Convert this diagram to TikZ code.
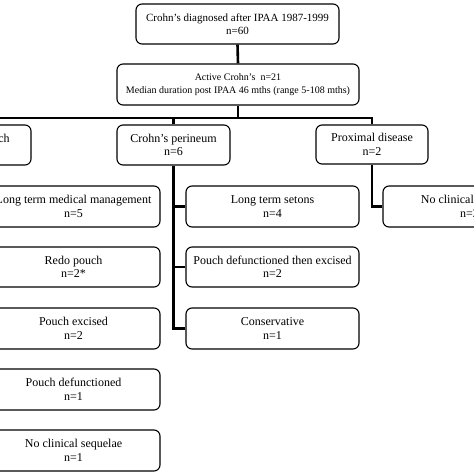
\documentclass[tikz,border=0pt]{standalone}
\usepackage{fontspec}
\setmainfont{Liberation Serif}
\begin{document}
\begin{tikzpicture}[x=1pt,y=-1pt,
  box/.style={draw, line width=1.1pt, rounded corners=6pt, align=center, inner sep=0pt, fill=white},
  lvl/.style={box, font=\fontsize{12}{13.5}\selectfont},
  conn/.style={line width=2.6pt}]
\useasboundingbox (0,0) rectangle (474,474);
\clip (0,0) rectangle (474,474);
\fill[white] (0,0) rectangle (474,474);
% nodes
\node[box, minimum width=203pt, minimum height=40pt, font=\fontsize{11}{13}\selectfont] (top) at (237.5,24) {Crohn’s diagnosed after IPAA 1987-1999\\n=60};
\node[box, minimum width=242pt, minimum height=41pt, font=\fontsize{10}{12.5}\selectfont] (active) at (238,84.5) {Active Crohn’s\ \ n=21\\Median duration post IPAA 46 mths (range 5-108 mths)};
\node[lvl, minimum width=113pt, minimum height=40pt] (pouch) at (-25.5,145) {Crohn’s pouch\\n=13};
\node[lvl, minimum width=113pt, minimum height=40pt] (perineum) at (173.5,145) {Crohn’s perineum\\n=6};
\node[lvl, minimum width=112pt, minimum height=39pt] (proximal) at (372,144.5) {Proximal disease\\n=2};
% left column
\node[lvl, minimum width=173pt, minimum height=41pt] (ltmm) at (73.5,206.5) {Long term medical management\\n=5};
\node[lvl, minimum width=173pt, minimum height=40pt] (redo) at (73.5,267) {Redo pouch\\n=2*};
\node[lvl, minimum width=173pt, minimum height=41pt] (excised) at (73.5,328.5) {Pouch excised\\n=2};
\node[lvl, minimum width=173pt, minimum height=41pt] (defunc) at (73.5,389.5) {Pouch defunctioned\\n=1};
\node[lvl, minimum width=173pt, minimum height=41pt] (noseq) at (73.5,450.5) {No clinical sequelae\\n=1};
% middle column
\node[lvl, minimum width=173pt, minimum height=41pt] (setons) at (272.5,206.5) {Long term setons\\n=4};
\node[lvl, minimum width=173pt, minimum height=40pt] (defexc) at (272.5,267) {Pouch defunctioned then excised\\n=2};
\node[lvl, minimum width=173pt, minimum height=41pt] (cons) at (272.5,328.5) {Conservative\\n=1};
% right column
\node[lvl, minimum width=173pt, minimum height=41pt] (noclin) at (469.5,206.5) {No clinical sequelae\\n=2};
% connectors
\draw[conn] (top.south) -- (active.north);
\path (active.south) ++(0,12.5) coordinate (bj);
\draw[conn] (active.south) -- (bj);
\draw[conn] (pouch.north) |- (bj) -| (proximal.north);
\draw[conn] (perineum.north) -- (perineum.north |- bj);
\draw[conn] (perineum.south) |- (cons.west);
\draw[conn] (perineum.south |- setons.west) -- (setons.west);
\draw[conn] (perineum.south |- defexc.west) -- (defexc.west);
\draw[conn] (proximal.south) |- (noclin.west);
\draw[conn] (pouch.south) |- (noseq.west);
\draw[conn] (pouch.south |- ltmm.west) -- (ltmm.west);
\draw[conn] (pouch.south |- redo.west) -- (redo.west);
\draw[conn] (pouch.south |- excised.west) -- (excised.west);
\draw[conn] (pouch.south |- defunc.west) -- (defunc.west);
\end{tikzpicture}
\end{document}
